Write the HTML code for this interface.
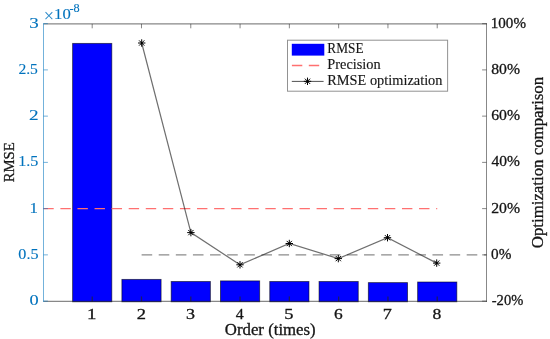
<!DOCTYPE html><html><head><meta charset="utf-8"><style>html,body{margin:0;padding:0;background:#fff;overflow:hidden;}svg{display:block;}text{font-family:"Liberation Serif",serif;}</style></head><body>
<svg width="550" height="339" viewBox="0 0 550 339">
<rect width="550" height="339" fill="#fff"/>
<rect x="72.60" y="43.40" width="39.20" height="258.40" fill="#0000ff" stroke="#000" stroke-opacity="0.6" stroke-width="0.9"/>
<rect x="121.89" y="279.40" width="39.20" height="22.40" fill="#0000ff" stroke="#000" stroke-opacity="0.6" stroke-width="0.9"/>
<rect x="171.18" y="281.50" width="39.20" height="20.30" fill="#0000ff" stroke="#000" stroke-opacity="0.6" stroke-width="0.9"/>
<rect x="220.47" y="280.90" width="39.20" height="20.90" fill="#0000ff" stroke="#000" stroke-opacity="0.6" stroke-width="0.9"/>
<rect x="269.76" y="281.50" width="39.20" height="20.30" fill="#0000ff" stroke="#000" stroke-opacity="0.6" stroke-width="0.9"/>
<rect x="319.05" y="281.50" width="39.20" height="20.30" fill="#0000ff" stroke="#000" stroke-opacity="0.6" stroke-width="0.9"/>
<rect x="368.34" y="282.60" width="39.20" height="19.20" fill="#0000ff" stroke="#000" stroke-opacity="0.6" stroke-width="0.9"/>
<rect x="417.63" y="282.00" width="39.20" height="19.80" fill="#0000ff" stroke="#000" stroke-opacity="0.6" stroke-width="0.9"/>
<line x1="43.3" y1="208.60" x2="437.23" y2="208.60" stroke="#ff7070" stroke-width="1.2" stroke-dasharray="10.4 6.68"/>
<line x1="141.6" y1="254.86" x2="486.5" y2="254.86" stroke="#8c8c8c" stroke-width="1.3" stroke-dasharray="10.6 6.51"/>
<polyline points="141.70,43.00 190.90,232.60 240.00,264.80 289.30,243.50 338.30,258.60 387.50,237.70 436.70,263.10" fill="none" stroke="#222" stroke-opacity="0.65" stroke-width="1.2"/>
<path d="M138.00 43.00H145.40M141.70 39.30V46.70M139.08 40.38L144.32 45.62M139.08 45.62L144.32 40.38" stroke="#000" stroke-width="1.0" fill="none"/><circle cx="141.70" cy="43.00" r="0.9" fill="#000"/>
<path d="M187.20 232.60H194.60M190.90 228.90V236.30M188.28 229.98L193.52 235.22M188.28 235.22L193.52 229.98" stroke="#000" stroke-width="1.0" fill="none"/><circle cx="190.90" cy="232.60" r="0.9" fill="#000"/>
<path d="M236.30 264.80H243.70M240.00 261.10V268.50M237.38 262.18L242.62 267.42M237.38 267.42L242.62 262.18" stroke="#000" stroke-width="1.0" fill="none"/><circle cx="240.00" cy="264.80" r="0.9" fill="#000"/>
<path d="M285.60 243.50H293.00M289.30 239.80V247.20M286.68 240.88L291.92 246.12M286.68 246.12L291.92 240.88" stroke="#000" stroke-width="1.0" fill="none"/><circle cx="289.30" cy="243.50" r="0.9" fill="#000"/>
<path d="M334.60 258.60H342.00M338.30 254.90V262.30M335.68 255.98L340.92 261.22M335.68 261.22L340.92 255.98" stroke="#000" stroke-width="1.0" fill="none"/><circle cx="338.30" cy="258.60" r="0.9" fill="#000"/>
<path d="M383.80 237.70H391.20M387.50 234.00V241.40M384.88 235.08L390.12 240.32M384.88 240.32L390.12 235.08" stroke="#000" stroke-width="1.0" fill="none"/><circle cx="387.50" cy="237.70" r="0.9" fill="#000"/>
<path d="M433.00 263.10H440.40M436.70 259.40V266.80M434.08 260.48L439.32 265.72M434.08 265.72L439.32 260.48" stroke="#000" stroke-width="1.0" fill="none"/><circle cx="436.70" cy="263.10" r="0.9" fill="#000"/>
<line x1="43.50" y1="301.40" x2="487.00" y2="301.40" stroke="#262626" stroke-opacity="0.55" stroke-width="1.1"/>
<line x1="43.50" y1="23.90" x2="487.00" y2="23.90" stroke="#262626" stroke-opacity="0.55" stroke-width="1.2"/>
<line x1="92.20" y1="301.40" x2="92.20" y2="296.40" stroke="#262626" stroke-opacity="0.7" stroke-width="1.3"/>
<line x1="92.20" y1="23.90" x2="92.20" y2="28.30" stroke="#262626" stroke-opacity="0.55" stroke-width="1"/>
<line x1="141.49" y1="301.40" x2="141.49" y2="296.40" stroke="#262626" stroke-opacity="0.7" stroke-width="1.3"/>
<line x1="141.49" y1="23.90" x2="141.49" y2="28.30" stroke="#262626" stroke-opacity="0.55" stroke-width="1"/>
<line x1="190.78" y1="301.40" x2="190.78" y2="296.40" stroke="#262626" stroke-opacity="0.7" stroke-width="1.3"/>
<line x1="190.78" y1="23.90" x2="190.78" y2="28.30" stroke="#262626" stroke-opacity="0.55" stroke-width="1"/>
<line x1="240.07" y1="301.40" x2="240.07" y2="296.40" stroke="#262626" stroke-opacity="0.7" stroke-width="1.3"/>
<line x1="240.07" y1="23.90" x2="240.07" y2="28.30" stroke="#262626" stroke-opacity="0.55" stroke-width="1"/>
<line x1="289.36" y1="301.40" x2="289.36" y2="296.40" stroke="#262626" stroke-opacity="0.7" stroke-width="1.3"/>
<line x1="289.36" y1="23.90" x2="289.36" y2="28.30" stroke="#262626" stroke-opacity="0.55" stroke-width="1"/>
<line x1="338.65" y1="301.40" x2="338.65" y2="296.40" stroke="#262626" stroke-opacity="0.7" stroke-width="1.3"/>
<line x1="338.65" y1="23.90" x2="338.65" y2="28.30" stroke="#262626" stroke-opacity="0.55" stroke-width="1"/>
<line x1="387.94" y1="301.40" x2="387.94" y2="296.40" stroke="#262626" stroke-opacity="0.7" stroke-width="1.3"/>
<line x1="387.94" y1="23.90" x2="387.94" y2="28.30" stroke="#262626" stroke-opacity="0.55" stroke-width="1"/>
<line x1="437.23" y1="301.40" x2="437.23" y2="296.40" stroke="#262626" stroke-opacity="0.7" stroke-width="1.3"/>
<line x1="437.23" y1="23.90" x2="437.23" y2="28.30" stroke="#262626" stroke-opacity="0.55" stroke-width="1"/>
<line x1="486.50" y1="23.40" x2="486.50" y2="301.90" stroke="#262626" stroke-opacity="0.55" stroke-width="1"/>
<line x1="486.50" y1="301.10" x2="482.10" y2="301.10" stroke="#262626" stroke-opacity="0.55" stroke-width="1"/>
<line x1="486.50" y1="254.86" x2="482.10" y2="254.86" stroke="#262626" stroke-opacity="0.55" stroke-width="1"/>
<line x1="486.50" y1="208.62" x2="482.10" y2="208.62" stroke="#262626" stroke-opacity="0.55" stroke-width="1"/>
<line x1="486.50" y1="162.38" x2="482.10" y2="162.38" stroke="#262626" stroke-opacity="0.55" stroke-width="1"/>
<line x1="486.50" y1="116.14" x2="482.10" y2="116.14" stroke="#262626" stroke-opacity="0.55" stroke-width="1"/>
<line x1="486.50" y1="69.90" x2="482.10" y2="69.90" stroke="#262626" stroke-opacity="0.55" stroke-width="1"/>
<line x1="486.50" y1="23.66" x2="482.10" y2="23.66" stroke="#262626" stroke-opacity="0.55" stroke-width="1"/>
<line x1="43.50" y1="23.40" x2="43.50" y2="301.90" stroke="#0072bd" stroke-opacity="0.55" stroke-width="1"/>
<line x1="43.50" y1="301.10" x2="47.90" y2="301.10" stroke="#0072bd" stroke-opacity="0.55" stroke-width="1"/>
<line x1="43.50" y1="254.86" x2="47.90" y2="254.86" stroke="#0072bd" stroke-opacity="0.55" stroke-width="1"/>
<line x1="43.50" y1="208.62" x2="47.90" y2="208.62" stroke="#0072bd" stroke-opacity="0.55" stroke-width="1"/>
<line x1="43.50" y1="162.38" x2="47.90" y2="162.38" stroke="#0072bd" stroke-opacity="0.55" stroke-width="1"/>
<line x1="43.50" y1="116.14" x2="47.90" y2="116.14" stroke="#0072bd" stroke-opacity="0.55" stroke-width="1"/>
<line x1="43.50" y1="69.90" x2="47.90" y2="69.90" stroke="#0072bd" stroke-opacity="0.55" stroke-width="1"/>
<line x1="43.50" y1="23.66" x2="47.90" y2="23.66" stroke="#0072bd" stroke-opacity="0.55" stroke-width="1"/>
<text x="29.57" y="305.10" font-size="15.3" fill="#0072bd" textLength="9.17" lengthAdjust="spacingAndGlyphs" stroke="#0072bd" stroke-width="0.12">0</text>
<text x="18.35" y="258.86" font-size="15.3" fill="#0072bd" textLength="20.19" lengthAdjust="spacingAndGlyphs" stroke="#0072bd" stroke-width="0.12">0.5</text>
<text x="29.48" y="212.62" font-size="15.3" fill="#0072bd" textLength="8.43" lengthAdjust="spacingAndGlyphs" stroke="#0072bd" stroke-width="0.12">1</text>
<text x="18.15" y="166.38" font-size="15.3" fill="#0072bd" textLength="20.20" lengthAdjust="spacingAndGlyphs" stroke="#0072bd" stroke-width="0.12">1.5</text>
<text x="29.13" y="120.14" font-size="15.3" fill="#0072bd" textLength="9.63" lengthAdjust="spacingAndGlyphs" stroke="#0072bd" stroke-width="0.12">2</text>
<text x="18.40" y="73.90" font-size="15.3" fill="#0072bd" textLength="19.53" lengthAdjust="spacingAndGlyphs" stroke="#0072bd" stroke-width="0.12">2.5</text>
<text x="29.15" y="27.66" font-size="15.3" fill="#0072bd" textLength="9.51" lengthAdjust="spacingAndGlyphs" stroke="#0072bd" stroke-width="0.12">3</text>
<text x="43.74" y="21.90" font-size="18.3" fill="#0072bd" textLength="10.30" lengthAdjust="spacingAndGlyphs" fill-opacity="0.85">×</text>
<text x="54.10" y="19.20" font-size="15.3" fill="#0072bd" textLength="16.67" lengthAdjust="spacingAndGlyphs" stroke="#0072bd" stroke-width="0.12">10</text>
<text x="69.47" y="12.10" font-size="12.2" fill="#0072bd" textLength="10.19" lengthAdjust="spacingAndGlyphs" stroke="#0072bd" stroke-width="0.12">-8</text>
<text x="491.79" y="305.10" font-size="15.3" fill="#151515" textLength="31.46" lengthAdjust="spacingAndGlyphs" stroke="#151515" stroke-width="0.3">-20%</text>
<text x="491.09" y="258.86" font-size="15.3" fill="#151515" textLength="20.31" lengthAdjust="spacingAndGlyphs" stroke="#151515" stroke-width="0.3">0%</text>
<text x="491.19" y="212.62" font-size="15.3" fill="#151515" textLength="28.83" lengthAdjust="spacingAndGlyphs" stroke="#151515" stroke-width="0.3">20%</text>
<text x="491.59" y="166.38" font-size="15.3" fill="#151515" textLength="28.42" lengthAdjust="spacingAndGlyphs" stroke="#151515" stroke-width="0.3">40%</text>
<text x="491.19" y="120.14" font-size="15.3" fill="#151515" textLength="28.83" lengthAdjust="spacingAndGlyphs" stroke="#151515" stroke-width="0.3">60%</text>
<text x="491.27" y="73.90" font-size="15.3" fill="#151515" textLength="28.75" lengthAdjust="spacingAndGlyphs" stroke="#151515" stroke-width="0.3">80%</text>
<text x="490.74" y="27.66" font-size="15.3" fill="#151515" textLength="35.26" lengthAdjust="spacingAndGlyphs" stroke="#151515" stroke-width="0.3">100%</text>
<text x="87.00" y="319.40" font-size="15.3" fill="#151515" textLength="9.43" lengthAdjust="spacingAndGlyphs" stroke="#151515" stroke-width="0.3">1</text>
<text x="136.76" y="319.40" font-size="15.3" fill="#151515" textLength="9.25" lengthAdjust="spacingAndGlyphs" stroke="#151515" stroke-width="0.3">2</text>
<text x="185.98" y="319.40" font-size="15.3" fill="#151515" textLength="9.02" lengthAdjust="spacingAndGlyphs" stroke="#151515" stroke-width="0.3">3</text>
<text x="235.85" y="319.40" font-size="15.3" fill="#151515" textLength="7.96" lengthAdjust="spacingAndGlyphs" stroke="#151515" stroke-width="0.3">4</text>
<text x="284.35" y="319.40" font-size="15.3" fill="#151515" textLength="9.25" lengthAdjust="spacingAndGlyphs" stroke="#151515" stroke-width="0.3">5</text>
<text x="333.97" y="319.40" font-size="15.3" fill="#151515" textLength="8.71" lengthAdjust="spacingAndGlyphs" stroke="#151515" stroke-width="0.3">6</text>
<text x="382.85" y="319.40" font-size="15.3" fill="#151515" textLength="9.14" lengthAdjust="spacingAndGlyphs" stroke="#151515" stroke-width="0.3">7</text>
<text x="432.63" y="319.40" font-size="15.3" fill="#151515" textLength="8.81" lengthAdjust="spacingAndGlyphs" stroke="#151515" stroke-width="0.3">8</text>
<text x="224.83" y="334.60" font-size="16" fill="#151515" textLength="90.82" lengthAdjust="spacingAndGlyphs" stroke="#151515" stroke-width="0.3">Order (times)</text>
<text transform="translate(14.00,0) rotate(-90)" x="-182.34" y="0" font-size="15.3" fill="#151515" textLength="40.13" lengthAdjust="spacingAndGlyphs" stroke="#151515" stroke-width="0.3">RMSE</text>
<text transform="translate(543.40,0) rotate(-90)" x="-248.27" y="0" font-size="16" fill="#151515" textLength="171.46" lengthAdjust="spacingAndGlyphs" stroke="#151515" stroke-width="0.3">Optimization comparison</text>
<rect x="287.5" y="40.2" width="160.1" height="51.0" fill="#fff" stroke="#262626" stroke-opacity="0.5" stroke-width="1"/>
<rect x="291.8" y="43.8" width="32.5" height="11.8" fill="#0000ff"/>
<line x1="291.9" y1="65.5" x2="323.6" y2="65.5" stroke="#ff7070" stroke-width="1.4" stroke-dasharray="10.4 6.5"/>
<line x1="291.8" y1="81.4" x2="323.6" y2="81.4" stroke="#333" stroke-opacity="0.85" stroke-width="1.0"/>
<path d="M303.80 81.30H311.20M307.50 77.60V85.00M304.88 78.68L310.12 83.92M304.88 83.92L310.12 78.68" stroke="#000" stroke-width="1.0" fill="none"/><circle cx="307.50" cy="81.30" r="0.9" fill="#000"/>
<text x="327.30" y="52.80" font-size="13.8" fill="#151515" textLength="36.21" lengthAdjust="spacingAndGlyphs" stroke="#151515" stroke-width="0.12">RMSE</text>
<text x="327.27" y="68.80" font-size="13.8" fill="#151515" textLength="53.47" lengthAdjust="spacingAndGlyphs" stroke="#151515" stroke-width="0.12">Precision</text>
<text x="327.27" y="84.90" font-size="13.8" fill="#151515" textLength="115.21" lengthAdjust="spacingAndGlyphs" stroke="#151515" stroke-width="0.12">RMSE optimization</text>
</svg></body></html>
